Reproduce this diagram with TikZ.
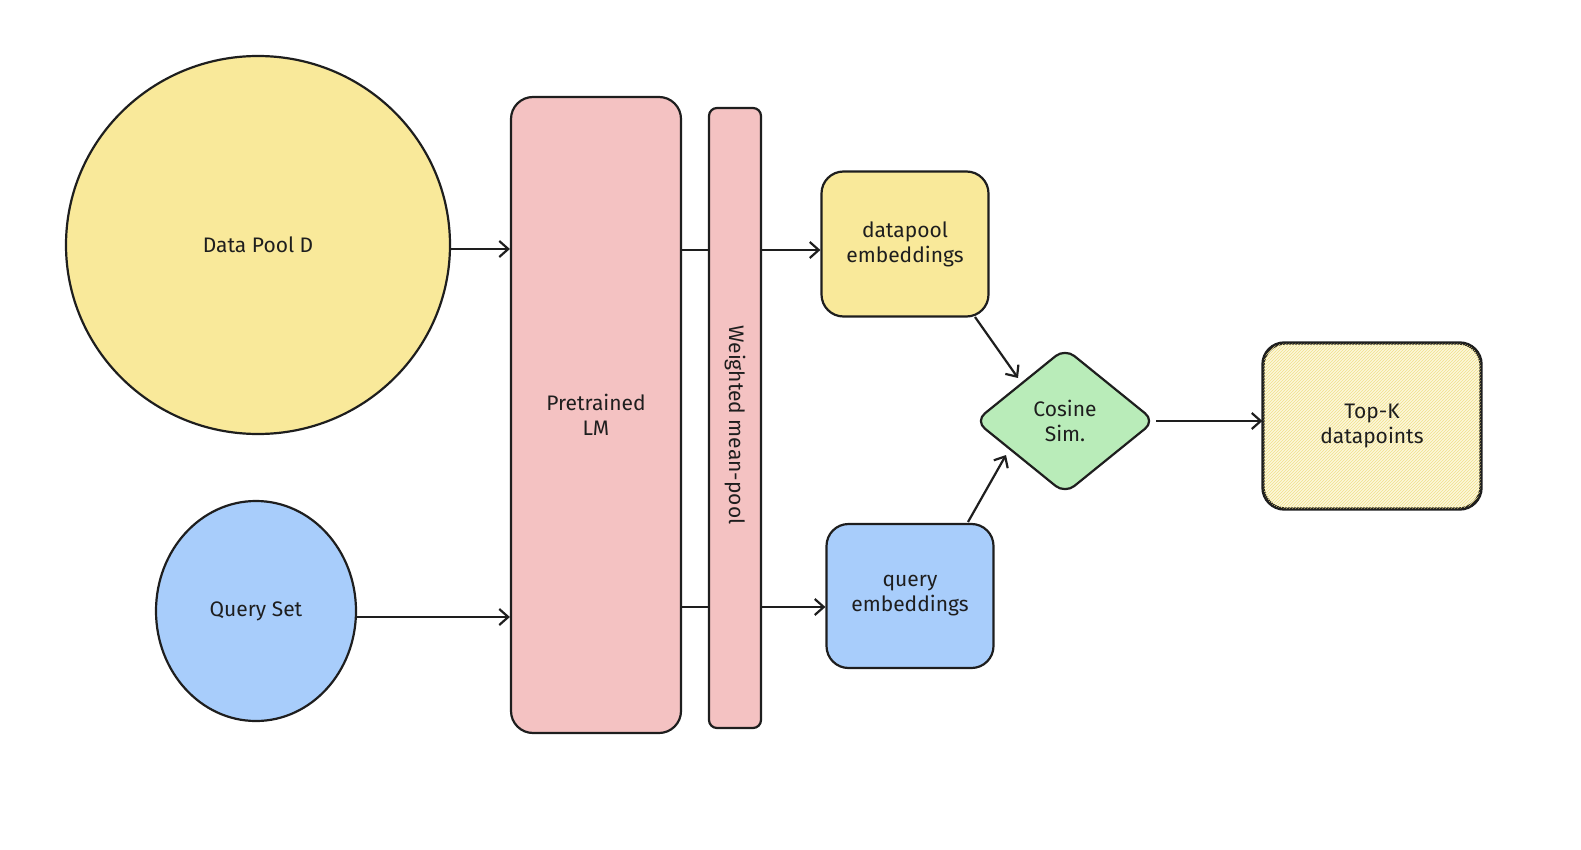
\documentclass[tikz,border=0pt]{standalone}
\usepackage{fontspec}
\setmainfont{Fira Sans}
\usetikzlibrary{shapes.geometric,arrows.meta,patterns}
\definecolor{cyel}{HTML}{F9E99A}
\definecolor{cblu}{HTML}{A8CDFB}
\definecolor{cpink}{HTML}{F4C2C2}
\definecolor{cgrn}{HTML}{B9ECB9}
\definecolor{chat}{HTML}{F0E08A}
\definecolor{cink}{HTML}{1E1E1E}
\begin{document}
\begin{tikzpicture}[x=1pt,y=-1pt,
  every node/.style={font=\fontsize{21}{25}\selectfont, text=cink, align=center},
  shp/.style={draw=cink, line width=2.2pt},
  box/.style={shp, rounded corners=22pt, inner sep=0pt},
  arr/.style={draw=cink, line width=2.2pt, -{Straight Barb[length=9pt,width=16pt]}},
  ln/.style={draw=cink, line width=2.2pt}]
\useasboundingbox (0,0) rectangle (1581,850);
\node[shp, ellipse, fill=cyel, minimum width=384pt, minimum height=378pt] (dp) at (258,245) {Data Pool D};
\node[shp, ellipse, fill=cblu, minimum width=200pt, minimum height=220pt] (qs) at (256,611) {Query Set};
\node[box, fill=cpink, minimum width=170pt, minimum height=636pt] (lm) at (596,415) {Pretrained\\LM};
\node[box, rounded corners=8pt, fill=cpink, minimum width=52pt, minimum height=620pt] (mp) at (735,418) {};
\node[rotate=-90] (mpt) at (735,425) {Weighted mean-pool};
\node[box, fill=cyel, minimum width=167pt, minimum height=145pt] (de) at (905,244) {datapool\\embeddings};
\node[box, fill=cblu, minimum width=167pt, minimum height=144pt] (qe) at (910,596) {query\\embeddings};
\node[shp, diamond, fill=cgrn, rounded corners=12pt, minimum width=180pt, minimum height=146pt, inner sep=0pt, aspect=1.23] (cs) at (1065,421) {Cosine\\Sim.};
\node[box, fill=cyel!35, minimum width=217pt, minimum height=165pt] (tk) at (1372,426) {};
\fill[pattern=north east lines, pattern color=chat, rounded corners=22pt] (tk.south west) rectangle (tk.north east);
\draw[shp, rounded corners=22pt] (tk.south west) rectangle (tk.north east);
\node (tkt) at (1372,426) {Top-K\\datapoints};
\draw[arr] (dp.east |- 0,249) -- (lm.west |- 0,249);
\draw[arr] (qs.east |- 0,617) -- (lm.west |- 0,617);
\draw[ln] (lm.east |- 0,250) -- (mp.west |- 0,250);
\draw[ln] (lm.east |- 0,607) -- (mp.west |- 0,607);
\draw[arr] (mp.east |- 0,250) -- (de.west |- 0,250);
\draw[arr] (mp.east |- 0,607) -- (qe.west |- 0,607);
\coordinate (a1) at (975,317);
\coordinate (a2) at (968,522);
\draw[arr] (a1) -- (1018,378);
\draw[arr] (a2) -- (1006,455);
\draw[arr] (cs.east) -- (tk.west |- cs.east);
\end{tikzpicture}
\end{document}
